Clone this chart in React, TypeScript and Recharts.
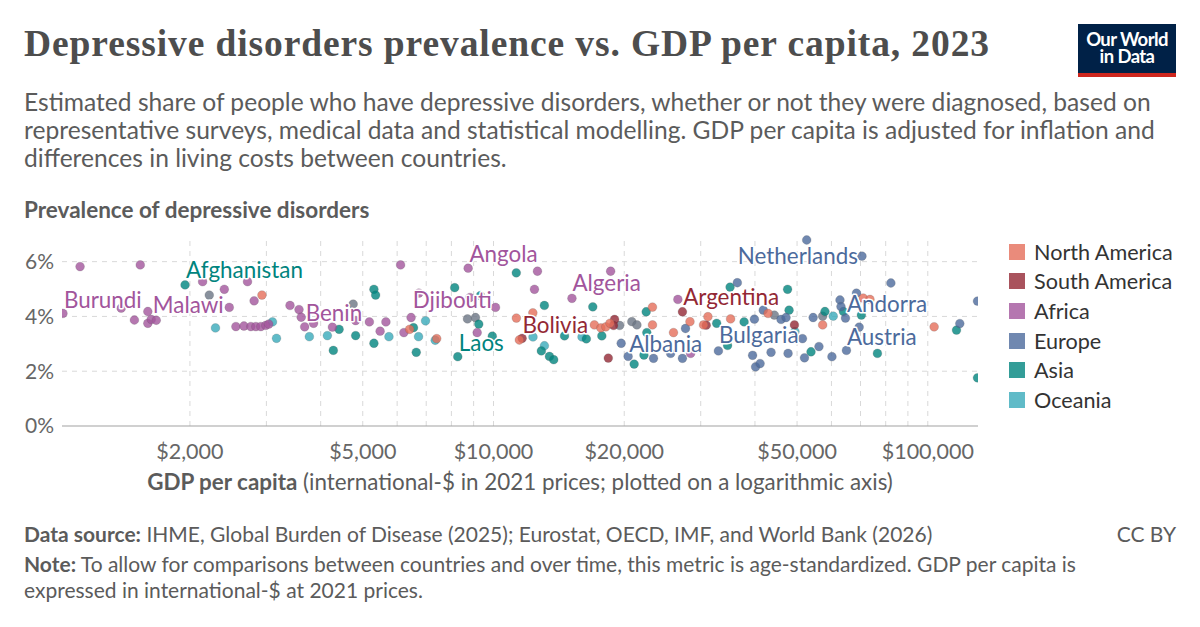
import React from "react";
import { ScatterChart, Scatter, XAxis, YAxis, ReferenceLine } from "recharts";

// GDP per capita (int.-$ at 2021 prices) and prevalence of depressive disorders (%)
const northAmericaGdp = [2930, 6410, 7400, 11290, 11470, 12320, 17070, 17670, 18140, 18540, 23230, 23230, 25970, 28340, 30450, 31170, 35150, 42870, 57270, 71030, 73580, 103420];
const northAmericaPrev = [4.78, 3.53, 3.19, 3.94, 3.14, 4.13, 3.69, 3.58, 3.62, 3.75, 4.34, 3.69, 3.41, 3.81, 3.69, 3.99, 3.91, 4.11, 3.69, 4.67, 4.62, 3.62];

const southAmericaGdp = [11640, 19000, 18900, 18380, 27230, 30890, 49310];
const southAmericaPrev = [3.2, 3.89, 3.67, 2.48, 4.17, 3.68, 3.69];

const africaGdp = [1020, 1117, 1389, 1490, 1537, 1600, 1600, 1629, 1673, 2139, 2400, 2464, 2714, 2811, 2552, 2663, 2762, 2836, 2912, 2990, 3037, 3400, 3566, 3608, 3675, 3852, 4257, 4815, 5178, 5482, 5653, 6110, 6460, 6218, 6731, 8743, 8826, 9171, 10106, 12426, 12625, 15159, 18610, 26578, 28440];
const africaPrev = [4.11, 5.82, 4.3, 3.87, 5.88, 4.18, 3.75, 3.89, 3.86, 5.27, 4.99, 4.33, 5.27, 4.57, 3.63, 3.65, 3.63, 3.63, 3.63, 3.67, 3.72, 4.4, 4.25, 3.97, 3.62, 3.75, 3.61, 3.85, 3.8, 3.46, 3.8, 5.88, 3.96, 3.41, 4.85, 5.76, 4.69, 3.41, 4.33, 4.99, 5.65, 4.66, 5.65, 4.62, 2.65];

const europeGdp = [19680, 20420, 23360, 25580, 27680, 27230, 32950, 36430, 39880, 39500, 40130, 41100, 41800, 43560, 45930, 47160, 47670, 51460, 52010, 52620, 54450, 56160, 60160, 62780, 63110, 64630, 64970, 68510, 69500, 70530, 82230, 118500, 130150];
const europePrev = [3.02, 2.54, 2.47, 2.65, 3.56, 2.47, 2.74, 5.23, 3.9, 2.58, 2.16, 2.28, 4.23, 2.69, 3.89, 3.96, 2.65, 3.19, 2.49, 6.79, 3.96, 2.9, 2.53, 4.6, 4.36, 3.94, 2.76, 4.85, 3.61, 6.2, 5.22, 3.74, 4.56];

const asiaGdp = [1949, 4278, 4411, 4815, 5305, 5353, 5305, 6544, 6640, 8141, 8274, 9249, 9332, 9937, 11285, 13096, 12888, 13452, 13761, 14572, 16360, 16929, 17760, 21080, 22204, 22469, 22544, 32650, 34594, 35055, 37760, 47550, 47930, 53840, 57970, 63940, 70320, 76560, 116440, 130150];
const asiaPrev = [5.15, 2.76, 3.53, 3.3, 4.99, 4.78, 3.02, 3.59, 2.69, 5.05, 2.53, 3.72, 4.76, 3.28, 5.59, 4.4, 2.74, 2.54, 2.42, 3.29, 3.18, 4.35, 3.29, 2.26, 2.59, 4.17, 3.41, 3.75, 2.94, 5.07, 3.8, 4.99, 4.23, 2.71, 4.18, 4.18, 4.05, 2.65, 3.5, 1.76];

const oceaniaGdp = [2290, 3098, 3165, 3767, 4145, 5745, 6975, 6721, 7342, 12330, 13100, 15990, 49440, 60570];
const oceaniaPrev = [3.58, 3.8, 3.2, 3.26, 3.3, 3.26, 3.84, 3.26, 3.13, 3.25, 2.93, 3.25, 3.45, 4.01];

// points drawn in grey (no continent in the legend)
const otherGdp = [2216, 4752, 8712, 9089, 19520, 20820, 21390, 44330, 57270];
const otherPrev = [4.78, 4.45, 3.91, 3.96, 3.67, 3.81, 3.69, 4.05, 4.01];

// labelled countries
const labelNames = ["Burundi", "Malawi", "Afghanistan", "Benin", "Djibouti", "Angola", "Laos", "Bolivia", "Algeria", "Albania", "Argentina", "Bulgaria", "Netherlands", "Andorra", "Austria"];
const labelRegions = ["Africa", "Africa", "Asia", "Africa", "Africa", "Africa", "Asia", "South America", "Africa", "Europe", "South America", "Europe", "Europe", "Europe", "Europe"];
const labelGdp = [1020, 1600, 1949, 3608, 6731, 8743, 8274, 11640, 15159, 19680, 27230, 32950, 70530, 63110, 64970];
const labelPrev = [4.11, 4.18, 5.15, 3.97, 4.85, 5.76, 2.53, 3.2, 4.66, 3.02, 4.17, 2.74, 6.2, 4.36, 2.76];

const xTicks = [2000, 5000, 10000, 20000, 50000, 100000];
const xGrid = [2000, 3000, 4000, 5000, 6000, 7000, 8000, 9000, 10000, 20000, 30000, 40000, 50000, 60000, 70000, 80000, 90000, 100000];
const yTicks = [0, 2, 4, 6];

const COLORS: Record<string, string> = {
  "North America": "#E56E5A",
  "South America": "#932834",
  Africa: "#A2559C",
  Europe: "#4C6A9C",
  Asia: "#00847E",
  Oceania: "#38AABA",
  Other: "#6b7684",
};

// label placement relative to its point: dx, dy (to baseline), anchor
const LABEL_POS: Record<string, [number, number, string]> = {
  Burundi: [1, -5, "start"],
  Malawi: [5, 1.5, "start"],
  Afghanistan: [1, -7, "start"],
  Benin: [4.5, 3.7, "start"],
  Djibouti: [-6, 15, "start"],
  Angola: [1.3, -6.3, "start"],
  Laos: [1, -5.7, "start"],
  Bolivia: [0.3, -5.3, "start"],
  Algeria: [0.5, -7.3, "start"],
  Albania: [8, 8.7, "start"],
  Argentina: [0.7, -6.7, "start"],
  Bulgaria: [0.7, -8, "start"],
  Netherlands: [-4, 8, "end"],
  Andorra: [6, 5.5, "start"],
  Austria: [0.5, -5.5, "start"],
};

const zip = (gdp: number[], prev: number[]) => gdp.map((g, i) => ({ gdp: g, prev: prev[i] }));

const series = [
  { name: "Oceania", data: zip(oceaniaGdp, oceaniaPrev) },
  { name: "Other", data: zip(otherGdp, otherPrev) },
  { name: "Asia", data: zip(asiaGdp, asiaPrev) },
  { name: "Europe", data: zip(europeGdp, europePrev) },
  { name: "Africa", data: zip(africaGdp, africaPrev) },
  { name: "South America", data: zip(southAmericaGdp, southAmericaPrev) },
  { name: "North America", data: zip(northAmericaGdp, northAmericaPrev) },
];

const labelData = labelNames.map((n, i) => ({ name: n, region: labelRegions[i], gdp: labelGdp[i], prev: labelPrev[i] }));

const legendItems = ["North America", "South America", "Africa", "Europe", "Asia", "Oceania"];

const fmtMoney = (v: number) => "$" + v.toLocaleString("en-US");

const Dot = (color: string) => (p: any) => (
  <circle cx={p.cx} cy={p.cy} r={4.4} fill={color} fillOpacity={0.8} stroke="#555" strokeOpacity={0.35} strokeWidth={0.6} />
);

const LabelShape = (p: any) => {
  const d = p.payload;
  const [dx, dy, anchor] = LABEL_POS[d.name];
  return (
    <text
      x={p.cx + dx}
      y={p.cy + dy}
      textAnchor={anchor as any}
      fontSize={22.4}
      fontFamily="Lato"
      fill={COLORS[d.region]}
      stroke="#fff"
      strokeWidth={3}
      strokeLinejoin="round"
      paintOrder="stroke"
    >
      {d.name}
    </text>
  );
};

const txt: React.CSSProperties = { position: "absolute", whiteSpace: "nowrap", fontFamily: "Lato" };

export default function App() {
  return (
    <div style={{ position: "absolute", left: 0, top: 0, width: 1200, height: 627, background: "#fff", overflow: "hidden", fontFamily: "Lato" }}>
      <div style={{ position: "absolute", left: 0, top: 0 }}>
        <ScatterChart width={1200} height={470} margin={{ top: 240, right: 222, bottom: 0, left: 0 }}>
          <XAxis
            type="number"
            dataKey="gdp"
            scale="log"
            domain={[1015, 130500]}
            allowDataOverflow
            ticks={xTicks}
            tickFormatter={fmtMoney}
            tickLine={false}
            tickMargin={12}
            height={44}
            axisLine={{ stroke: "#a1a1a1" }}
            tick={{ fill: "#666", fontSize: 21.5, fontFamily: "Lato" }}
          />
          <YAxis
            type="number"
            dataKey="prev"
            domain={[0, 6.79]}
            ticks={yTicks}
            tickFormatter={(v: number) => v + "%"}
            width={62}
            axisLine={false}
            tickLine={false}
            tick={{ fill: "#666", fontSize: 21, fontFamily: "Lato" }}
          />
          {xGrid.map((v) => (
            <ReferenceLine key={"x" + v} x={v} stroke="#d9d9d9" strokeDasharray="5 5" />
          ))}
          {yTicks.slice(1).map((v) => (
            <ReferenceLine key={"y" + v} y={v} stroke="#d9d9d9" strokeDasharray="5 5" />
          ))}
          {series.map((s) => (
            <Scatter key={s.name} name={s.name} data={s.data} isAnimationActive={false} shape={Dot(COLORS[s.name])} />
          ))}
          <Scatter name="labels" data={labelData} isAnimationActive={false} shape={LabelShape} />
        </ScatterChart>
      </div>

      <div style={{ ...txt, left: 24, top: 23, fontFamily: "Liberation Serif", fontWeight: 700, fontSize: 37.5, letterSpacing: 0.9, color: "#4d4d4d", lineHeight: "42px" }}>
        Depressive disorders prevalence vs. GDP per capita, 2023
      </div>

      <div style={{ position: "absolute", left: 1078, top: 24, width: 98, height: 53, background: "#002147" }}>
        <div style={{ position: "absolute", left: 0, right: 0, bottom: 0, height: 4, background: "#CE261E" }} />
        <div style={{ position: "absolute", left: 4, width: 90, top: 7, textAlign: "center", color: "#fff", fontFamily: "Lato", fontSize: 18.5, fontWeight: 700, lineHeight: "17px", letterSpacing: -0.6 }}>
          Our World in Data
        </div>
      </div>

      <div style={{ ...txt, left: 24, top: 87.5, fontSize: 24.6, lineHeight: "28.3px", color: "#5b5b5b" }}>
        <div>Estimated share of people who have depressive disorders, whether or not they were diagnosed, based on</div>
        <div>representative surveys, medical data and statistical modelling. GDP per capita is adjusted for inflation and</div>
        <div>differences in living costs between countries.</div>
      </div>

      <div style={{ ...txt, left: 24, top: 196, fontSize: 22.5, fontWeight: 700, lineHeight: "27px", color: "#5b5b5b" }}>
        Prevalence of depressive disorders
      </div>

      <div style={{ position: "absolute", left: 1009, top: 237 }}>
        {legendItems.map((name) => (
          <div key={name} style={{ display: "flex", alignItems: "center", height: 29.6 }}>
            <div style={{ width: 16, height: 16, background: COLORS[name], opacity: 0.8, marginRight: 9 }} />
            <span style={{ fontSize: 21.6, color: "#333", fontFamily: "Lato", whiteSpace: "nowrap" }}>{name}</span>
          </div>
        ))}
      </div>

      <div style={{ ...txt, left: 62, width: 916, top: 468, textAlign: "center", fontSize: 22.4, lineHeight: "27px", color: "#5b5b5b" }}>
        <b>GDP per capita</b> (international-$ in 2021 prices; plotted on a logarithmic axis)
      </div>

      <div style={{ ...txt, left: 24, top: 521, fontSize: 21, lineHeight: "25px", color: "#5b5b5b" }}>
        <b>Data source:</b> IHME, Global Burden of Disease (2025); Eurostat, OECD, IMF, and World Bank (2026)
      </div>
      <div style={{ ...txt, right: 24, top: 521, fontSize: 21, lineHeight: "25px", color: "#5b5b5b" }}>CC BY</div>
      <div style={{ ...txt, left: 24, top: 551, fontSize: 21, lineHeight: "26px", color: "#5b5b5b" }}>
        <div>
          <b>Note:</b> To allow for comparisons between countries and over time, this metric is age-standardized. GDP per capita is
        </div>
        <div>expressed in international-$ at 2021 prices.</div>
      </div>
    </div>
  );
}
